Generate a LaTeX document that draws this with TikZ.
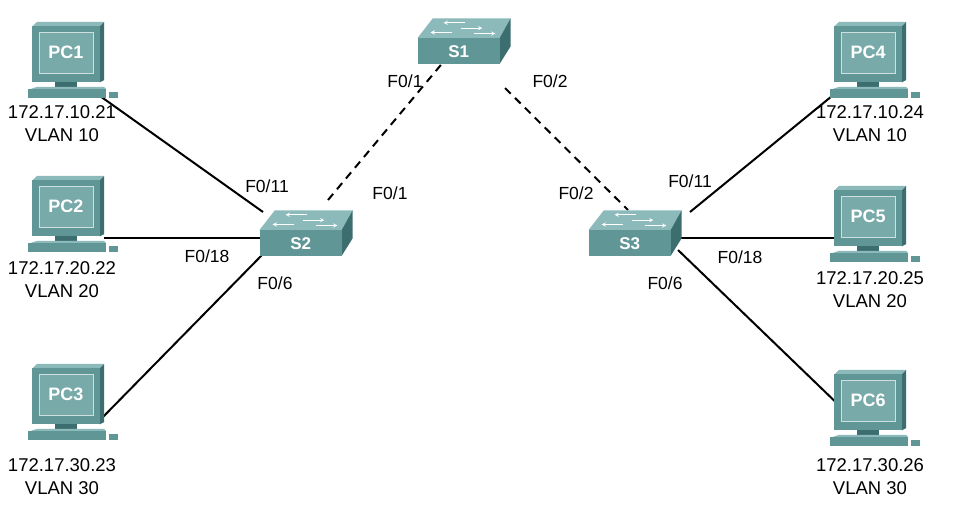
\documentclass[tikz,border=0pt]{standalone}
\usepackage{fontspec}
\setmainfont{Liberation Sans}
\begin{document}
\begin{tikzpicture}[x=1pt,y=-1pt,
  lbl/.style={font=\fontsize{17.5}{20}\selectfont, inner sep=0pt},
  tag/.style={font=\fontsize{18.5}{23}\selectfont, inner sep=0pt, align=center},
  link/.style={line width=2pt, black},
  trunk/.style={line width=2pt, black, dash pattern=on 8pt off 6pt},
  pc/.style={minimum width=80pt, minimum height=74pt, inner sep=0pt, draw=none},
  sw/.style={minimum width=90pt, minimum height=48pt, inner sep=0pt, draw=none}]
\definecolor{tealA}{RGB}{96,150,150}
\definecolor{tealB}{RGB}{140,185,185}
\definecolor{tealC}{RGB}{60,110,112}
\definecolor{scr}{RGB}{120,170,170}
\useasboundingbox (0,0) rectangle (976,512);
\fill[white] (0,0) rectangle (976,512);
\newcommand{\pcicon}[3]{%
 \begin{scope}[shift={(#1,#2)}, scale=1.12]
  \fill[tealB] (-30,-30) -- (-26,-34) -- (34,-34) -- (30,-30) -- cycle;
  \fill[tealC] (30,-30) -- (34,-34) -- (34,18) -- (30,20) -- cycle;
  \fill[tealA] (-30,-30) rectangle (30,20);
  \fill[scr] (-24,-25) rectangle (24,12);
  \draw[white!70!tealA, line width=0.6pt] (-24,-25) rectangle (24,12);
  \node[text=white, font=\bfseries\fontsize{18}{20}\selectfont] at (0,-7) {#3};
  \fill[tealC] (-10,20) rectangle (10,26);
  \fill[tealB] (-32,26) -- (-26,24) -- (34,24) -- (36,26) -- cycle;
  \fill[tealA] (-34,26) rectangle (36,34);
  \fill[tealA] (38,29) rectangle (46,34);
 \end{scope}}
\newcommand{\swicon}[3]{%
 \begin{scope}[shift={(#1,#2)}, scale=1.08]
  \fill[tealB] (-42,-2) -- (-28,-20) -- (44,-20) -- (34,-2) -- cycle;
  \fill[tealC] (34,-2) -- (44,-20) -- (44,6) -- (34,22) -- cycle;
  \fill[tealA] (-42,-2) rectangle (34,22);
  \draw[white, line width=0.9pt,->,>=stealth] (-10,-7) -- (-30,-7);
  \draw[white, line width=0.9pt,->,>=stealth] (-2,-11) -- (18,-11);
  \draw[white, line width=0.9pt,->,>=stealth] (2,-16) -- (-18,-16);
  \draw[white, line width=0.9pt,->,>=stealth] (10,-6) -- (30,-6);
  \node[text=white, font=\bfseries\fontsize{17}{19}\selectfont] at (-4,11) {#3};
 \end{scope}}
\node[pc] (pc1) at (66,60) {};
\node[pc] (pc2) at (66,214) {};
\node[pc] (pc3) at (66,402) {};
\node[pc] (pc4) at (868,60) {};
\node[pc] (pc5) at (868,224) {};
\node[pc] (pc6) at (868,408) {};
\node[sw] (s1) at (463,40) {};
\node[sw] (s2) at (305,232) {};
\node[sw] (s3) at (634,232) {};
\coordinate (a1) at (100,96); \coordinate (b1) at (263,212);
\coordinate (a2) at (104,238); \coordinate (b2) at (260,238);
\coordinate (a3) at (100,420); \coordinate (b3) at (263,254);
\coordinate (c1) at (328,200); \coordinate (d1) at (445,60);
\coordinate (c2) at (505,88); \coordinate (d2) at (628,210);
\coordinate (e1) at (690,212); \coordinate (f1) at (832,96);
\coordinate (e2) at (678,238); \coordinate (f2) at (836,238);
\coordinate (e3) at (678,250); \coordinate (f3) at (846,412);
\draw[link] (a1) -- (b1);
\draw[link] (a2) -- (b2);
\draw[link] (a3) -- (b3);
\draw[trunk] (c1) -- (d1);
\draw[trunk] (c2) -- (d2);
\draw[link] (e1) -- (f1);
\draw[link] (e2) -- (f2);
\draw[link] (e3) -- (f3);
\pcicon{66}{60}{PC1}
\pcicon{66}{214}{PC2}
\pcicon{66}{402}{PC3}
\pcicon{868}{60}{PC4}
\pcicon{868}{224}{PC5}
\pcicon{868}{408}{PC6}
\swicon{463}{40}{S1}
\swicon{305}{232}{S2}
\swicon{634}{232}{S3}
\node[tag] (t1) at (62,124) {172.17.10.21\\VLAN 10};
\node[tag] (t2) at (62,280) {172.17.20.22\\VLAN 20};
\node[tag] (t3) at (62,477) {172.17.30.23\\VLAN 30};
\node[tag] (t4) at (870,124) {172.17.10.24\\VLAN 10};
\node[tag] (t5) at (870,290) {172.17.20.25\\VLAN 20};
\node[tag] (t6) at (870,477) {172.17.30.26\\VLAN 30};
\node[lbl] (p1) at (267,186) {F0/11};
\node[lbl] (p2) at (405,81) {F0/1};
\node[lbl] (p3) at (390,193) {F0/1};
\node[lbl] (p4) at (550,81) {F0/2};
\node[lbl] (p5) at (576,193) {F0/2};
\node[lbl] (p6) at (207,256) {F0/18};
\node[lbl] (p7) at (275,283) {F0/6};
\node[lbl] (p8) at (690,181) {F0/11};
\node[lbl] (p9) at (740,257) {F0/18};
\node[lbl] (p10) at (665,283) {F0/6};
\end{tikzpicture}
\end{document}
